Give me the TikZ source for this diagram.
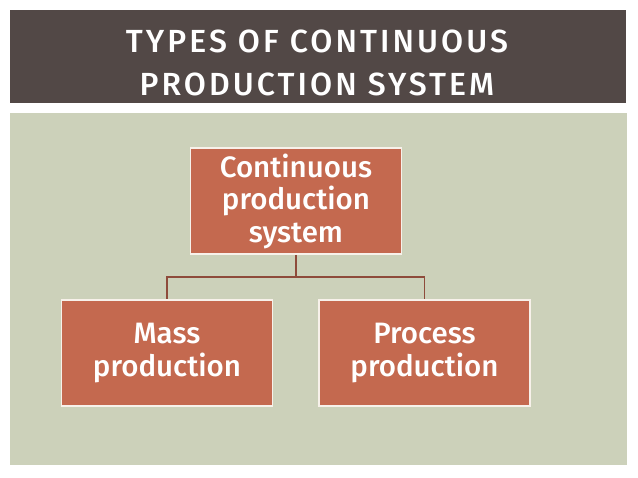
\documentclass[tikz,border=0pt]{standalone}
\usepackage{fontspec}
\setmainfont{Fira Sans}[UprightFont=* Medium]
\newfontfamily\titlefont{Fira Sans}[UprightFont=* Medium, LetterSpace=9.5]
\definecolor{titlebg}{HTML}{524846}
\definecolor{panelbg}{HTML}{CCD1BA}
\definecolor{boxfill}{HTML}{C4694F}
\definecolor{boxedge}{HTML}{F7F1EA}
\definecolor{linkcol}{HTML}{8E4B3B}
\tikzset{
  titletext/.style={text=white, font=\titlefont\fontsize{32}{43}\selectfont, align=center, inner sep=0pt},
  boxnode/.style={draw=boxedge, line width=1.6pt, fill=boxfill, text=white,
    font=\fontsize{29.5}{32.5}\selectfont, align=center,
    minimum width=211pt, minimum height=106pt, inner sep=0pt},
  link/.style={draw=linkcol, line width=1.4pt}
}
\begin{document}
\begin{tikzpicture}[x=1pt,y=-1pt]
\useasboundingbox (0,0) rectangle (638,478);
\fill[white] (0,0) rectangle (638,478);
\fill[titlebg] (10,10) rectangle (626,103);
\fill[panelbg] (10,113) rectangle (627,465);
\node[titletext] (title) at (317,63) {TYPES OF CONTINUOUS\\PRODUCTION SYSTEM};
\node[boxnode] (top) at (296,201) {Continuous\\production\\system};
\node[boxnode] (mass) at (167,353) {Mass\\production};
\node[boxnode] (proc) at (424.5,353) {Process\\production};
\coordinate (mid) at (296,277);
\path[link] (top.south) -- (mid);
\path[link] (mid) -| (mass.north);
\path[link] (mid) -| (proc.north);
\end{tikzpicture}
\end{document}
